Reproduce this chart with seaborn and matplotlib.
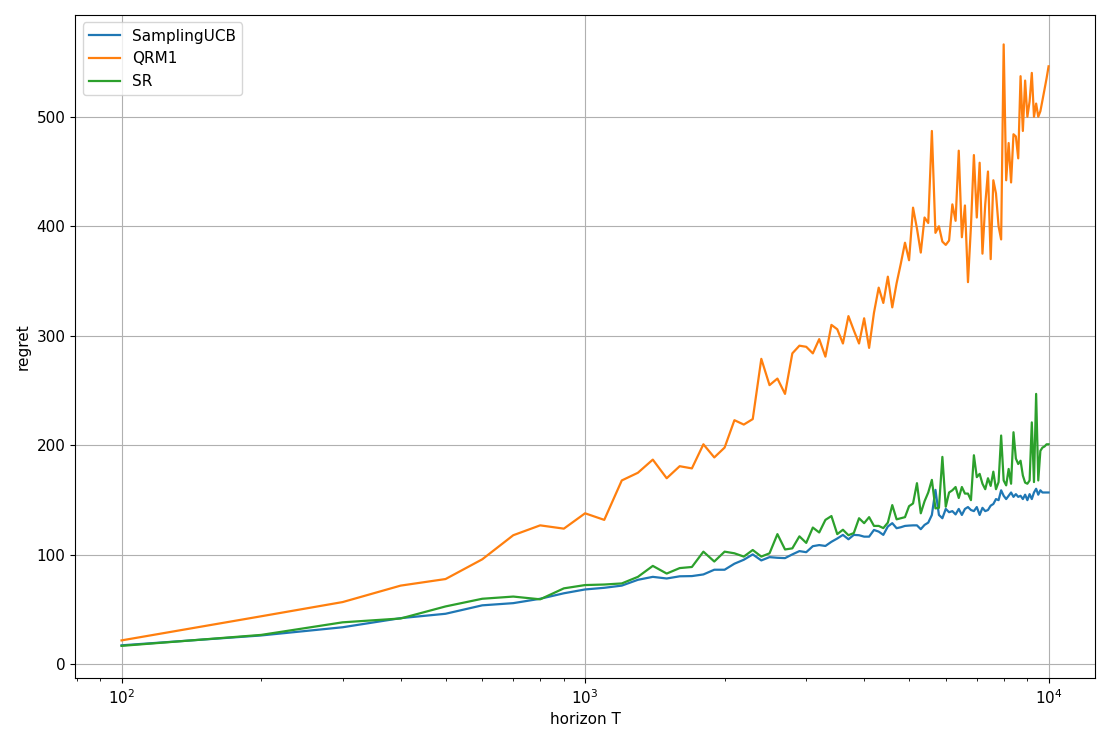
import numpy as np
import pandas as pd
import matplotlib
matplotlib.use('Agg')
import matplotlib.pyplot as plt
import seaborn as sns

# horizon T = 100, 200, ..., 10000
horizon = list(range(100, 10001, 100))

sampling_ucb = [
    17.5, 26.5, 34, 42.3, 46.3, 54, 56, 60, 65, 68.5,
    70, 72, 77.3, 80, 78.5, 80.5, 80.7, 82.2, 86.5, 86.5,
    92, 95.6, 100.5, 95, 98, 97.4, 97.1, 100.5, 103.5, 102.5,
    108, 109, 108.2, 112, 115, 118.3, 114.3, 118.3, 118, 116.7,
    116.7, 122.8, 121.3, 118.3, 126, 129, 124.4, 125.3, 126.5, 126.8,
    127, 127, 123.5, 127.4, 129.5, 136.5, 159.4, 136.5, 133.5, 142,
    139, 140, 137, 142, 136.5, 142, 143.7, 141, 140, 143.7,
    136.5, 143, 140, 141, 145, 146.5, 151, 150, 159, 154,
    151, 154, 157, 153, 155.5, 153, 154, 151, 155, 150,
    155.5, 151, 157, 160.4, 155, 159, 157, 157, 157, 157,
]

qrm1 = [
    22, 44, 57, 72, 78, 96, 118, 127, 124, 138,
    132, 168, 175, 187, 170, 181, 179, 201, 189, 198,
    223, 219, 224, 279, 255, 261, 247, 284, 291, 290,
    284, 297, 281, 310, 306, 293, 318, 305, 293, 316,
    289, 321, 344, 330, 354, 326, 348, 366, 385, 369,
    417, 398, 376, 408, 403, 487, 394, 400, 386, 383,
    387, 420, 405, 469, 390, 419, 349, 400, 465, 408,
    458, 375, 420, 450, 370, 442, 430, 400, 388, 566,
    442, 476, 440, 484, 482, 462, 537, 487, 533, 500,
    514, 540, 500, 512, 500, 505, 515, 525, 535, 546,
]

sr = [
    17, 27, 38.5, 42, 53, 60, 62, 59.5, 69.5, 72.5,
    73, 74, 80, 90, 83, 88, 89, 103, 94, 103,
    101.5, 98.5, 104.5, 98.5, 101.5, 119, 105, 106, 117, 111,
    125, 120.5, 132, 135.5, 119, 123, 118, 120, 133.5, 129,
    134.5, 126.5, 126.5, 124.5, 129.5, 145.5, 132.5, 133.5, 134.5, 144.5,
    147, 165.5, 138, 149, 157, 168.5, 142.5, 143, 189.5, 144,
    157, 159, 162, 152, 162, 156, 156, 150, 191, 171,
    174, 165, 160, 170, 163, 176, 160, 166.5, 209, 168,
    163.5, 178.5, 165, 212, 188, 183, 186, 172.5, 166, 165,
    168, 221, 166.5, 247, 168, 195, 198, 199, 201, 201,
]

algorithms = ['SamplingUCB', 'QRM1', 'SR']
colors = ['#1f77b4', '#ff7f0e', '#2ca02c']

df = pd.DataFrame({
    'horizon T': horizon * 3,
    'regret': sampling_ucb + qrm1 + sr,
    'algorithm': [a for a in algorithms for _ in horizon],
})

plt.rcParams['font.size'] = 11

fig, ax = plt.subplots(figsize=(11.06, 7.42), dpi=100)

sns.lineplot(data=df, x='horizon T', y='regret', hue='algorithm',
             hue_order=algorithms, palette=colors, linewidth=1.6, ax=ax)

ax.set_xscale('log')
ax.set_ylim(-12.5, 593)
ax.grid(True, color='#b0b0b0', linewidth=0.8)
ax.legend(loc='upper left', title=None)

plt.subplots_adjust(left=0.068, right=0.99, top=0.98, bottom=0.086)
plt.savefig('out.png')
